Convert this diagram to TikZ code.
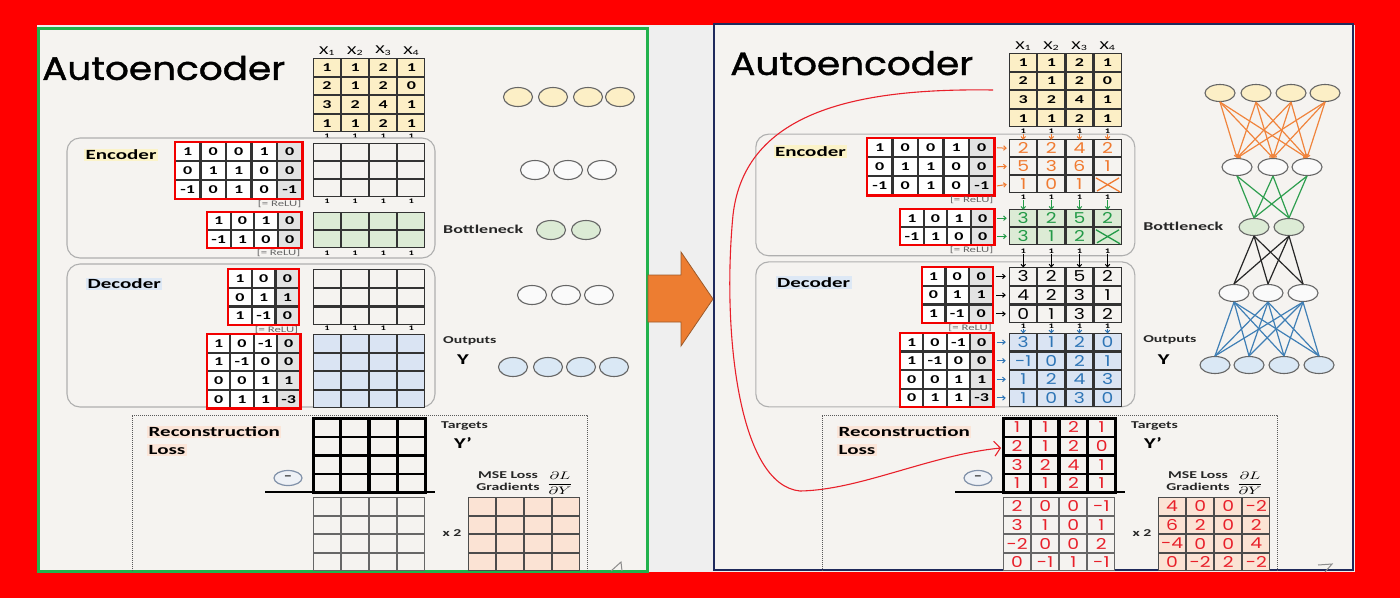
\documentclass[tikz,border=0pt]{standalone}
\usepackage{graphicx}
\usepackage{fontspec}
\setmainfont{Carlito}[FakeStretch=1.5]
\newfontfamily\titlefont{Poppins}[FakeBold=1.2]
\newfontfamily\handfont{Poppins}[FakeStretch=1.25]
\usetikzlibrary{shapes.geometric,matrix,arrows.meta}

\definecolor{bgred}{HTML}{FF0000}
\definecolor{paper}{HTML}{F5F3F0}
\definecolor{gapgrey}{HTML}{EFEFEF}
\definecolor{pgreen}{HTML}{22B24C}
\definecolor{pnavy}{HTML}{1F2A5C}
\definecolor{arrorange}{HTML}{ED7D31}
\definecolor{arrborder}{HTML}{9C5A2A}
\definecolor{xyellow}{HTML}{FCEFC6}
\definecolor{bgreen}{HTML}{DCEBD5}
\definecolor{yblue}{HTML}{DAE4F3}
\definecolor{gpeach}{HTML}{FBE3D4}
\definecolor{hlyellow}{HTML}{FBF3C8}
\definecolor{hlblue}{HTML}{DDE8F5}
\definecolor{hlpeach}{HTML}{FBE5D8}
\definecolor{wred}{HTML}{F20000}
\definecolor{biasgrey}{HTML}{E3E3E3}
\definecolor{hOrange}{HTML}{F07A30}
\definecolor{hGreen}{HTML}{239A47}
\definecolor{hBlue}{HTML}{2E75B6}
\definecolor{hRed}{HTML}{E8202A}
\definecolor{boxgrey}{HTML}{AFAFAF}
\definecolor{netorange}{HTML}{F0843C}
\definecolor{netgreen}{HTML}{2E9E4F}
\definecolor{netblue}{HTML}{3F7FB5}
\definecolor{cwhite}{HTML}{FAFAFA}
\definecolor{cblue}{HTML}{DAE8F5}
\definecolor{minusborder}{HTML}{8090A8}
\definecolor{minusfill}{HTML}{EEF1F6}

\newcommand\sx[1]{\scalebox{1.5}[1]{#1}}

\tikzset{
  mtx/.style={matrix of nodes, nodes in empty cells, ampersand replacement=\&,
    inner sep=0pt, outer sep=0pt, column sep=0pt, row sep=0pt, anchor=north west,
    nodes={draw=black!80, line width=1.1pt, inner sep=0pt, outer sep=0pt, anchor=center,
      font=\bfseries\fontsize{12}{12}\selectfont}},
  cellsize/.style 2 args={nodes={minimum width=#1, minimum height=#2}},
  wmat/.style={nodes={fill=white}},
  redframe/.style={draw=wred, line width=2.2pt},
  secbox/.style={draw=boxgrey, line width=1.1pt, rounded corners=13pt},
  dotbox/.style={draw=black!65, line width=1pt, densely dotted},
  lbl/.style={font=\bfseries\fontsize{14}{17}\selectfont, inner sep=1.5pt},
  lbls/.style={font=\bfseries\fontsize{10.5}{11.5}\selectfont, inner sep=1pt, text=black!85},
  lblb/.style={font=\bfseries\fontsize{12}{12}\selectfont, inner sep=1pt, text=black!85},
  bigY/.style={font=\bfseries\fontsize{15}{15}\selectfont, inner sep=0pt},
  relu/.style={font=\fontsize{8.5}{9}\selectfont, text=black!60, inner sep=1pt},
  bias/.style={font=\bfseries\fontsize{7}{7}\selectfont, inner sep=0.5pt},
  hdr/.style={font=\fontsize{12}{12}\selectfont, inner sep=1pt},
  neuron/.style={ellipse, draw=black!60, line width=1.1pt, minimum width=29pt, minimum height=19pt, inner sep=0pt},
  rneuron/.style={neuron, minimum width=30pt, minimum height=17pt},
  minusnode/.style={ellipse, draw=minusborder, fill=minusfill, line width=1.2pt, minimum width=28pt, minimum height=15pt, inner sep=0pt, font=\bfseries\fontsize{11}{11}\selectfont},
  smallarr/.style={-{Straight Barb[length=2.5pt,width=4.5pt]}, line width=1pt},
  neto/.style={netorange, line width=1.2pt, -{Straight Barb[length=2.5pt,width=4pt]}},
  netg/.style={netgreen, line width=1.2pt},
  netk/.style={black!85, line width=1.2pt},
  netb/.style={netblue, line width=1.2pt},
  hand/.style={font=\handfont\fontsize{15}{15}\selectfont},
  Lres1/.style={}, Lres2/.style={}, Lres3/.style={}, Lres4/.style={},
  Lres5/.style={}, Lres6/.style={}, Lres7/.style={},
  Rres1/.style={nodes={hand, text=hOrange}},
  Rres2/.style={nodes={hand, text=hGreen}},
  Rres3/.style={nodes={hand, text=black}},
  Rres4/.style={nodes={hand, text=hBlue}},
  Rres5/.style={nodes={hand, text=hRed}},
  Rres6/.style={nodes={hand, text=hRed}},
  Rres7/.style={nodes={hand, text=hRed}},
  redcurve/.style={draw=hRed, line width=1.1pt, -{Straight Barb[length=6pt,width=15pt]}},
}

\newcommand\upperpart[5]{%
  \node[anchor=west, inner sep=0pt] (#1title) at (42,68) {\resizebox{243pt}{24pt}{\titlefont Autoencoder}};
  \matrix (#1X) [mtx, cellsize={27pt}{17.5pt}, nodes={fill=xyellow}] at (313,58)
    {1\&1\&2\&1\\2\&1\&2\&0\\3\&2\&4\&1\\1\&1\&2\&1\\};
  \foreach \c in {1,...,4}{
    \node[hdr, above=1.5pt] (#1hx\c) at (#1X-1-\c.north) {X\textsubscript{\c}};
    \node[bias, below=1pt] (#1bX\c) at (#1X-4-\c.south) {1};
  }
  \draw[secbox] (67,138) rectangle (435,258);
  \node[lbl, fill=hlyellow, anchor=west] (#1enc) at (84,155) {Encoder};
  \matrix (#1W1) [mtx, wmat, cellsize={24.4pt}{18pt}, column 5/.style={nodes={fill=biasgrey}}] at (175,142)
    {1\&0\&0\&1\&0\\0\&1\&1\&0\&0\\-1\&0\&1\&0\&-1\\};
  \draw[redframe] (#1W1.north west) rectangle (#1W1.south east);
  \node[relu, anchor=north east] (#1relu1) at (#1W1.south east) {[= ReLU]};
  \matrix (#1H1) [mtx, cellsize={27pt}{17pt}, #1res1] at (313,143) {#2};
  \foreach \c in {1,...,4}{\node[bias, below=1.5pt] (#1bH\c) at (#1H1-3-\c.south) {1};}
  \matrix (#1W2) [mtx, wmat, cellsize={22.5pt}{17pt}, column 4/.style={nodes={fill=biasgrey}}] at (207,212)
    {1\&0\&1\&0\\-1\&1\&0\&0\\};
  \draw[redframe] (#1W2.north west) rectangle (#1W2.south east);
  \node[relu, anchor=north east] (#1relu2) at (#1W2.south east) {[= ReLU]};
  \matrix (#1B) [mtx, cellsize={27pt}{17pt}, nodes={fill=bgreen}, #1res2] at (313,212) {#3};
  \foreach \c in {1,...,4}{\node[bias, below=3pt] (#1bB\c) at (#1B-2-\c.south) {1};}
  \node[lblb, anchor=west] (#1bn) at (442,229) {Bottleneck};
  \draw[secbox] (67,264) rectangle (435,407);
  \node[lbl, fill=hlblue, anchor=west] (#1dec) at (86,284) {Decoder};
  \matrix (#1W3) [mtx, wmat, cellsize={22.67pt}{17.67pt}, column 3/.style={nodes={fill=biasgrey}}] at (228,269)
    {1\&0\&0\\0\&1\&1\\1\&-1\&0\\};
  \draw[redframe] (#1W3.north west) rectangle (#1W3.south east);
  \node[relu, anchor=north east] (#1relu3) at (#1W3.south east) {[= ReLU]};
  \matrix (#1H2) [mtx, cellsize={27pt}{17.67pt}, #1res3] at (313,269) {#4};
  \foreach \c in {1,...,4}{\node[bias, below=0.8pt] (#1bD\c) at (#1H2-3-\c.south) {1};}
  \matrix (#1W4) [mtx, wmat, cellsize={22.25pt}{17.5pt}, column 4/.style={nodes={fill=biasgrey}}] at (207,334)
    {1\&0\&-1\&0\\1\&-1\&0\&0\\0\&0\&1\&1\\0\&1\&1\&-3\\};
  \draw[redframe] (#1W4.north west) rectangle (#1W4.south east);
  \matrix (#1Y) [mtx, cellsize={27pt}{17.5pt}, nodes={fill=yblue}, #1res4] at (313,334) {#5};
  \node[lbls, anchor=west] (#1out) at (442,341) {Outputs};
  \node[bigY] (#1ylab) at (463,360) {Y};
}

\newcommand\losspart[4]{%
  \draw[dotbox] (132,571) -- (132,415) -- (587,415) -- (587,571);
  \node[lbl, fill=hlpeach, anchor=west] (#1rec) at (147,432) {Reconstruction};
  \node[lbl, fill=hlpeach, anchor=west] (#1loss) at (147,450) {Loss};
  \matrix (#1T) [mtx, cellsize={27pt}{17.5pt}, nodes={draw=black, line width=1.2pt, fill=paper}, #1res5] at (313,418) {#2};
  \draw[line width=3pt] (#1T.north west) rectangle (#1T.south east);
  \foreach \c in {1,2,3}{\draw[line width=3pt] (#1T-1-\c.north east) -- (#1T-4-\c.south east);}
  \node[lbls, anchor=west] (#1tgt) at (440,426) {Targets};
  \node[bigY] (#1yp) at (463,443) {Y'};
  \node[minusnode] (#1minus) at (288,478) {--};
  \coordinate (#1la) at (265,492);
  \coordinate (#1lb) at (435,492);
  \draw[line width=1.3pt] (#1la) -- (#1lb);
  \matrix (#1D) [mtx, cellsize={27pt}{17.5pt}, nodes={draw=black!60, fill=paper}, #1res6] at (313,497) {#3};
  \node[lbls] (#1x2) at (452,533) {x 2};
  \node[lbls, align=center] (#1mse) at (508,481) {MSE Loss\\Gradients};
  \node[font=\fontsize{11}{11}\selectfont, inner sep=0pt] (#1dldy) at (560,483) {\sx{$\displaystyle\frac{\partial L}{\partial Y}$}};
  \matrix (#1G) [mtx, cellsize={27pt}{17.5pt}, nodes={fill=gpeach, draw=black!70}, #1res7] at (468,497) {#4};
}

\begin{document}
\begin{tikzpicture}[x=1pt, y=-1pt]
\useasboundingbox (0,0) rectangle (1400,598);
\fill[bgred] (0,0) rectangle (1400,598);
\fill[gapgrey] (37,25) rectangle (1355,572);
% panels
\draw[pgreen, line width=3pt, fill=paper] (38.5,28) rectangle (647,571);
\draw[pnavy, line width=2.5pt, fill=paper] (714,24) rectangle (1353,570);
% transition arrow
\draw[arrborder, line width=0.8pt, fill=arrorange] (648,275) -- (681,275) -- (681,252) -- (713,299) -- (681,346) -- (681,322) -- (648,322) -- cycle;

% ===== left panel =====
\upperpart{L}{\&\&\&\\\&\&\&\\\&\&\&\\}{\&\&\&\\\&\&\&\\}{\&\&\&\\\&\&\&\\\&\&\&\\}{\&\&\&\\\&\&\&\\\&\&\&\\\&\&\&\\}
\losspart{L}{\&\&\&\\\&\&\&\\\&\&\&\\\&\&\&\\}{\&\&\&\\\&\&\&\\\&\&\&\\\&\&\&\\}{\&\&\&\\\&\&\&\\\&\&\&\\\&\&\&\\}
\foreach \i/\x in {1/518,2/553,3/588,4/620}{\node[neuron, fill=xyellow] (Ln1-\i) at (\x,97) {};}
\foreach \i/\x in {1/535,2/568,3/602}{\node[neuron, fill=cwhite] (Ln2-\i) at (\x,170) {};}
\foreach \i/\x in {1/551,2/586}{\node[neuron, fill=bgreen] (Ln3-\i) at (\x,230) {};}
\foreach \i/\x in {1/532,2/566,3/599}{\node[neuron, fill=cwhite] (Ln4-\i) at (\x,295) {};}
\foreach \i/\x in {1/513,2/548,3/581,4/614}{\node[neuron, fill=cblue] (Ln5-\i) at (\x,367) {};}
\draw[black!45, line width=1pt] (611,571) -- (621,562) -- (622,571);

% ===== right panel =====
\begin{scope}[shift={(686.8pt,5.8pt)}, x=1.03pt, y=-1.0139pt]
\upperpart{R}{2\&2\&4\&2\\5\&3\&6\&1\\1\&0\&1\&\\}{3\&2\&5\&2\\3\&1\&2\&\\}{3\&2\&5\&2\\4\&2\&3\&1\\0\&1\&3\&2\\}{3\&1\&2\&0\\-1\&0\&2\&1\\1\&2\&4\&3\\1\&0\&3\&0\\}
\end{scope}
\begin{scope}[shift={(690pt,0pt)}]
\losspart{R}{1\&1\&2\&1\\2\&1\&2\&0\\3\&2\&4\&1\\1\&1\&2\&1\\}{2\&0\&0\&-1\\3\&1\&0\&1\\-2\&0\&0\&2\\0\&-1\&1\&-1\\}{4\&0\&0\&-2\\6\&2\&0\&2\\-4\&0\&0\&4\\0\&-2\&2\&-2\\}
\end{scope}
% crossed cells
\draw[hOrange, line width=1.3pt] ([shift={(2pt,-2pt)}]RH1-3-4.north west) -- ([shift={(-1pt,1pt)}]RH1-3-4.south east);
\draw[hOrange, line width=1.3pt] ([shift={(3pt,2pt)}]RH1-3-4.south west) -- ([shift={(-2pt,-2pt)}]RH1-3-4.north east);
\draw[hGreen, line width=1.3pt] ([shift={(2pt,-2pt)}]RB-2-4.north west) -- ([shift={(-1pt,1pt)}]RB-2-4.south east);
\draw[hGreen, line width=1.3pt] ([shift={(3pt,2pt)}]RB-2-4.south west) -- ([shift={(-2pt,-2pt)}]RB-2-4.north east);
% row arrows
\foreach \r in {1,2,3}{\draw[smallarr, hOrange] ([xshift=3pt]RW1-\r-5.east) -- ([xshift=-3pt]RH1-\r-1.west);}
\foreach \r in {1,2}{\draw[smallarr, hGreen] ([xshift=3pt]RW2-\r-4.east) -- ([xshift=-3pt]RB-\r-1.west);}
\foreach \r in {1,2,3}{\draw[smallarr, black] ([xshift=4pt]RW3-\r-3.east) -- ([xshift=-4pt]RH2-\r-1.west);}
\foreach \r in {1,2,3,4}{\draw[smallarr, hBlue] ([xshift=4pt]RW4-\r-4.east) -- ([xshift=-4pt]RY-\r-1.west);}
% bias arrows
\foreach \c in {1,...,4}{
  \draw[smallarr, hOrange] (RbX\c.south) -- (RH1-1-\c.north);
  \draw[smallarr, hGreen] (RbH\c.south) -- (RB-1-\c.north);
  \draw[smallarr, black] (RbB\c.south) -- (RH2-1-\c.north);
  \draw[smallarr, hBlue] (RbD\c.south) -- (RY-1-\c.north);
}
% network
\foreach \i/\x in {1/1220,2/1256,3/1291,4/1325}{\node[rneuron, fill=xyellow] (Rn1-\i) at (\x,93) {};}
\foreach \i/\x in {1/1237,2/1273,3/1307}{\node[rneuron, fill=cwhite] (Rn2-\i) at (\x,167) {};}
\foreach \i/\x in {1/1254,2/1289}{\node[rneuron, fill=bgreen] (Rn3-\i) at (\x,227) {};}
\foreach \i/\x in {1/1234,2/1268,3/1303}{\node[rneuron, fill=cwhite] (Rn4-\i) at (\x,293) {};}
\foreach \i/\x in {1/1215,2/1249,3/1284,4/1319}{\node[rneuron, fill=cblue] (Rn5-\i) at (\x,365) {};}
\foreach \i in {1,...,4}{\foreach \j in {1,2,3}{\draw[neto] (Rn1-\i.south) -- (Rn2-\j.north);}}
\foreach \i in {1,2,3}{\foreach \j in {1,2}{\draw[netg] (Rn2-\i.south) -- (Rn3-\j.north);}}
\foreach \i in {1,2}{\foreach \j in {1,2,3}{\draw[netk] (Rn3-\i.south) -- (Rn4-\j.north);}}
\foreach \i in {1,2,3}{\foreach \j in {1,...,4}{\draw[netb] (Rn4-\i.south) -- (Rn5-\j.north);}}
% red curve
\coordinate (cstart) at (993,90);
\coordinate (cend) at (1001,448);
\draw[redcurve] (cstart) .. controls (860,88) and (745,110) .. (733,215) .. controls (722,330) and (738,485) .. (800,491) .. controls (860,490) and (930,455) .. (cend);
\draw[black!45, line width=1pt] (1318,565) -- (1332,564) -- (1325,572);
\end{tikzpicture}
\end{document}
